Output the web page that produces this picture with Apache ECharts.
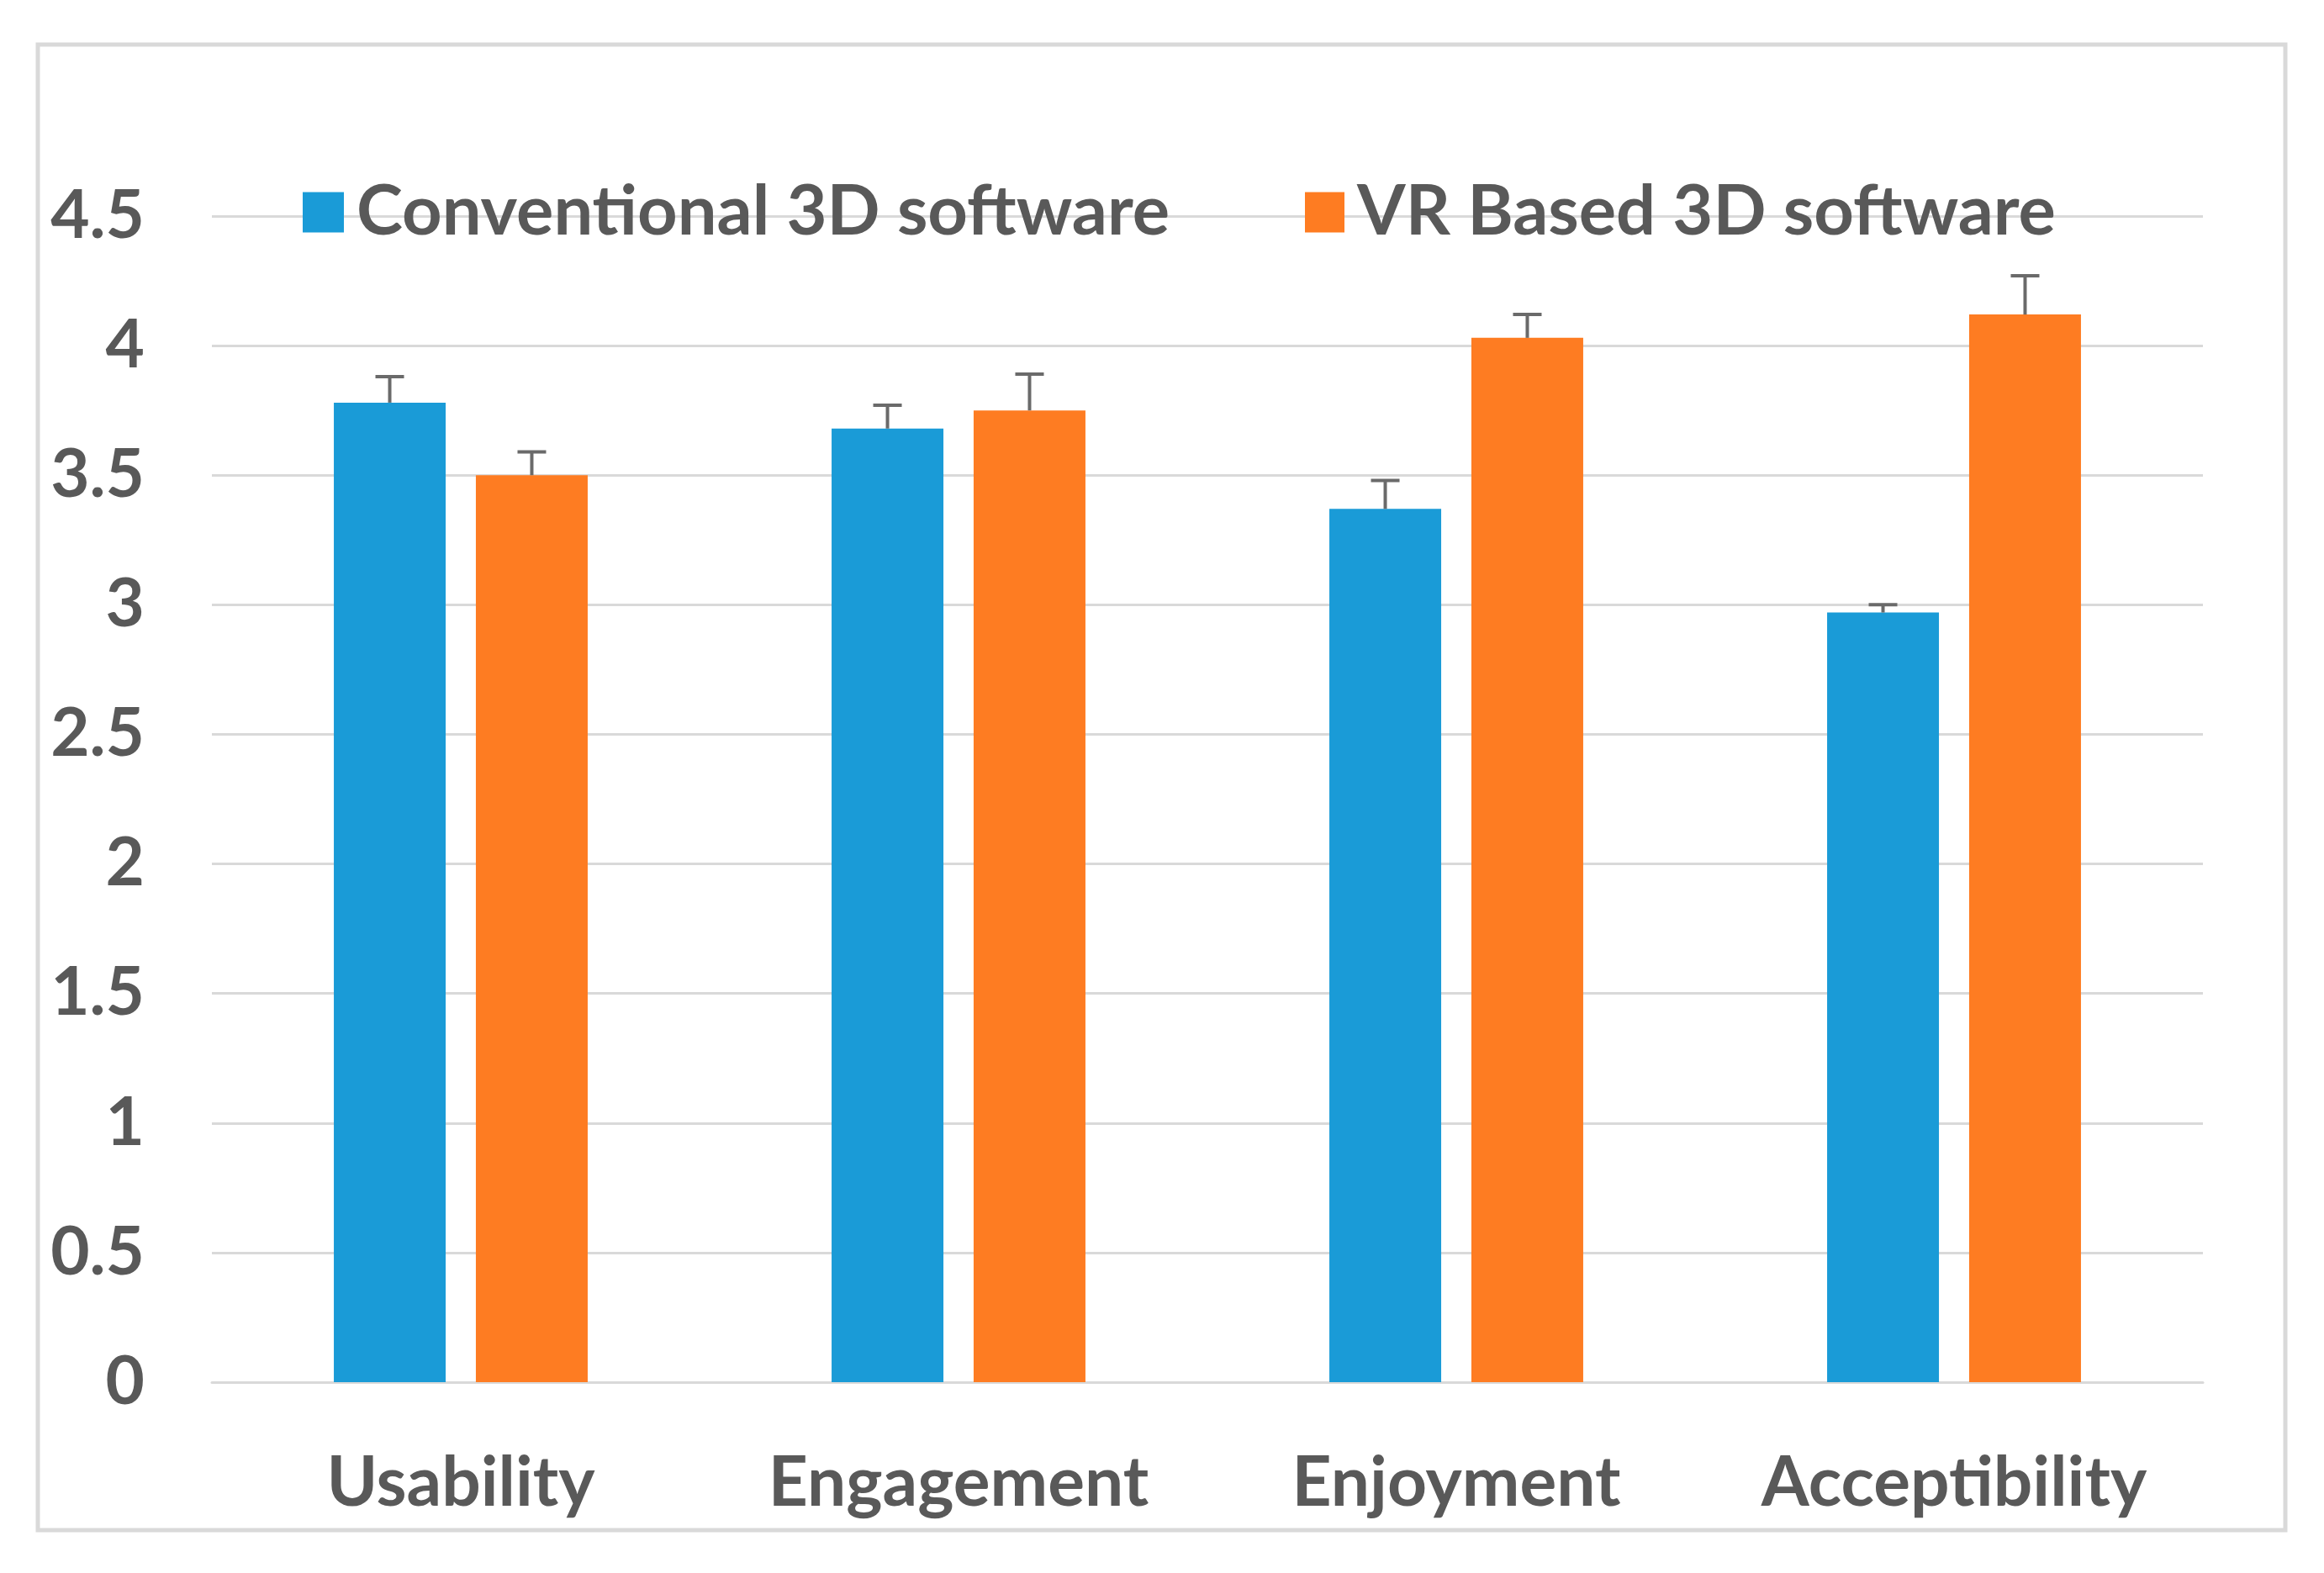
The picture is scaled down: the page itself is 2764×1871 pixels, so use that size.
<!DOCTYPE html>
<html>
<head>
<meta charset="utf-8">
<script src="https://cdn.jsdelivr.net/npm/echarts@6/dist/echarts.min.js"></script>
<style>
html,body{margin:0;padding:0;background:#fff;}
#chart{width:2764px;height:1871px;}
</style>
</head>
<body>
<div id="chart"></div>
<script>
const categories = ['Usability', 'Engagement', 'Enjoyment', 'Acceptibility'];
const seriesNames = ['Conventional 3D software', 'VR Based 3D software'];
const conventional = [3.78, 3.68, 3.37, 2.97];
const vrBased = [3.50, 3.75, 4.03, 4.12];
const conventionalErr = [0.10, 0.09, 0.11, 0.03];
const vrBasedErr = [0.09, 0.14, 0.09, 0.15];
const yTicks = [0, 0.5, 1, 1.5, 2, 2.5, 3, 3.5, 4, 4.5];

const BLUE = '#1a9bd7';
const ORANGE = '#fe7c22';
const TEXT = '#595959';
const FONT = 'Lato';
const FW = 'bold';

function errSeries(values, errs, sign) {
  return {
    type: 'custom',
    z: 5,
    silent: true,
    data: values.map((v, i) => [i, v, v + errs[i]]),
    renderItem: function (params, api) {
      const i = api.value(0);
      const band = api.size([1, 0])[0];
      const base = api.coord([i, api.value(1)]);
      const top = api.coord([i, api.value(2)]);
      const x = base[0] + sign * 0.1427 * band;
      const cap = 17;
      const style = { stroke: '#6a6a6a', lineWidth: 4 };
      return {
        type: 'group',
        children: [
          { type: 'line', shape: { x1: x, y1: base[1], x2: x, y2: top[1] }, style: style },
          { type: 'line', shape: { x1: x - cap, y1: top[1], x2: x + cap, y2: top[1] }, style: style }
        ]
      };
    }
  };
}

const chart = echarts.init(document.getElementById('chart'), null, { renderer: 'canvas' });
chart.setOption({
  backgroundColor: '#fff',
  animation: false,
  textStyle: { fontFamily: FONT },
  graphic: [{
    type: 'rect',
    shape: { x: 45, y: 53, width: 2673, height: 1767 },
    style: { fill: 'none', stroke: '#d9d9d9', lineWidth: 5 },
    z: -1
  }],
  legend: [{
    data: [seriesNames[0]],
    left: 355, top: 206,
    itemWidth: 49, itemHeight: 48,
    itemGap: 0,
    icon: 'rect',
    textStyle: { fontFamily: FONT, fontWeight: FW, fontSize: 83, color: TEXT, padding: [0, 0, 0, 10] }
  }, {
    data: [seriesNames[1]],
    left: 1547, top: 206,
    itemWidth: 47, itemHeight: 48,
    itemGap: 0,
    icon: 'rect',
    textStyle: { fontFamily: FONT, fontWeight: FW, fontSize: 83, color: TEXT, padding: [0, 0, 0, 10] }
  }],
  grid: { left: 252, right: 2764 - 2620, top: 257, bottom: 1871 - 1644, containLabel: false },
  xAxis: {
    type: 'category',
    data: categories,
    axisLine: { show: true, lineStyle: { color: '#d9d9d9', width: 3 } },
    axisTick: { show: false },
    axisLabel: { interval: 0, color: TEXT, fontFamily: FONT, fontWeight: FW, fontSize: 82, margin: 80 }
  },
  yAxis: {
    type: 'value',
    min: 0, max: 4.5, interval: 0.5,
    axisLine: { show: false },
    axisTick: { show: false },
    splitLine: { lineStyle: { color: '#d9d9d9', width: 3 } },
    axisLabel: {
      color: TEXT, fontFamily: FONT, fontWeight: FW, fontSize: 80, margin: 80,
      formatter: function (v) { return yTicks.indexOf(v) >= 0 ? String(v) : ''; }
    }
  },
  series: [{
    name: seriesNames[0],
    type: 'bar',
    data: conventional,
    barWidth: 133,
    barGap: '27%',
    itemStyle: { color: BLUE }
  }, {
    name: seriesNames[1],
    type: 'bar',
    data: vrBased,
    barWidth: 133,
    barGap: '27%',
    itemStyle: { color: ORANGE }
  },
  errSeries(conventional, conventionalErr, -1),
  errSeries(vrBased, vrBasedErr, 1)
  ]
});
</script>
</body>
</html>
